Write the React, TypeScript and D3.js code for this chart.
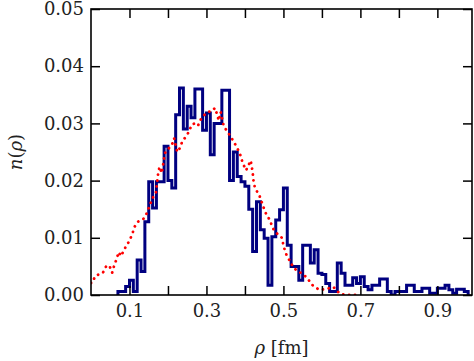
import React, { useRef, useEffect } from 'react';
import * as d3 from 'd3';

// histogram (blue steps): bins of 0.01 starting at 0.07
const binStart = 0.07;
const binWidth = 0.01;
const binValues = [
  0.0006, 0.0006, 0.0015, 0.0026, 0.0006, 0.0061, 0.0041, 0.0128, 0.0198, 0.0152,
  0.0198, 0.0198, 0.0260, 0.0200, 0.0187, 0.0315, 0.0362, 0.0290, 0.0330, 0.0310,
  0.0360, 0.0360, 0.0288, 0.0318, 0.0245, 0.0300, 0.0300, 0.0358, 0.0358, 0.0200,
  0.0250, 0.0207, 0.0198, 0.0190, 0.0150, 0.0076, 0.0163, 0.0114, 0.0099, 0.0017,
  0.0102, 0.0131, 0.0149, 0.0187, 0.0087, 0.0050, 0.0050, 0.0026, 0.0087, 0.0087,
  0.0056, 0.0079, 0.0038, 0.0036, 0.0020, 0.0006, 0.0006, 0.0056, 0.0038, 0.0017,
  0.0017, 0.0030, 0.0020, 0.0032, 0.0015, 0.0009, 0.0017, 0.0017, 0.0028, 0.0028,
  0.0006, 0.0000, 0.0006, 0.0006, 0.0006, 0.0017, 0.0017, 0.0006, 0.0006, 0.0012,
  0.0012, 0.0003, 0.0003, 0.0012, 0.0012, 0.0017, 0.0009, 0.0003, 0.0010, 0.0010,
  0.0006,
];

// red dotted curve
const curveRho = [
  0.000, 0.003, 0.011, 0.020, 0.031, 0.040, 0.048, 0.055, 0.060, 0.066, 0.072, 0.078,
  0.090, 0.100, 0.108, 0.113, 0.122, 0.130, 0.136, 0.143, 0.150, 0.158, 0.165, 0.169,
  0.174, 0.178, 0.184, 0.192, 0.200, 0.210, 0.216, 0.224, 0.231, 0.238, 0.246, 0.254,
  0.262, 0.270, 0.278, 0.286, 0.295, 0.305, 0.315, 0.322, 0.328, 0.332, 0.337, 0.345,
  0.352, 0.360, 0.371, 0.380, 0.389, 0.394, 0.403, 0.410, 0.415, 0.420, 0.422, 0.426,
  0.437, 0.445, 0.450, 0.456, 0.465, 0.472, 0.484, 0.496, 0.501, 0.508, 0.518, 0.527,
  0.537, 0.547, 0.560, 0.568, 0.576, 0.593, 0.608, 0.630, 0.647, 0.665, 0.688, 0.700,
];
const curveN = [
  0.0021, 0.0021, 0.0033, 0.0036, 0.0039, 0.0051, 0.0051, 0.0039, 0.0051, 0.0062, 0.0075, 0.0068,
  0.0084, 0.0095, 0.0108, 0.0119, 0.0128, 0.0131, 0.0133, 0.0140, 0.0152, 0.0166, 0.0176, 0.0180,
  0.0210, 0.0224, 0.0213, 0.0248, 0.0255, 0.0262, 0.0274, 0.0250, 0.0257, 0.0270, 0.0276, 0.0285,
  0.0298, 0.0300, 0.0296, 0.0308, 0.0315, 0.0320, 0.0322, 0.0327, 0.0315, 0.0305, 0.0320, 0.0295,
  0.0288, 0.0280, 0.0268, 0.0257, 0.0243, 0.0231, 0.0218, 0.0228, 0.0235, 0.0215, 0.0201, 0.0187,
  0.0175, 0.0160, 0.0150, 0.0140, 0.0131, 0.0117, 0.0107, 0.0100, 0.0084, 0.0070, 0.0058, 0.0047,
  0.0042, 0.0038, 0.0031, 0.0024, 0.0017, 0.0009, 0.0010, 0.0014, 0.0002, 0.0000, 0.0000, 0.0000,
];

const xTicks = [0.1, 0.2, 0.3, 0.4, 0.5, 0.6, 0.7, 0.8, 0.9];
const xTickLabels = ['0.1', '', '0.3', '', '0.5', '', '0.7', '', '0.9'];
const yTicks = [0, 0.01, 0.02, 0.03, 0.04, 0.05];
const yTickLabels = ['0.00', '0.01', '0.02', '0.03', '0.04', '0.05'];

const FONT = "'DejaVu Serif', 'Liberation Serif', 'Times New Roman', serif";
const FS = '18px';

const App = () => {
  const width = 474;
  const height = 361;
  const margin = { left: 91, right: 2, top: 9, bottom: 66 };
  const ref = useRef<SVGSVGElement | null>(null);

  useEffect(() => {
    if (!ref.current) return;
    const svg = d3.select(ref.current);
    svg.selectAll('*').remove();

    const x = d3.scaleLinear().domain([0, 0.99]).range([margin.left, width - margin.right]);
    const y = d3.scaleLinear().domain([0, 0.05]).range([height - margin.bottom, margin.top]);

    svg.append('clipPath').attr('id', 'plotclip')
      .append('rect')
      .attr('x', x(0)).attr('y', y(0.05))
      .attr('width', x(0.99) - x(0)).attr('height', y(0) - y(0.05));

    // blue histogram
    const steps: [number, number][] = [[binStart, 0]];
    binValues.forEach((v, i) => {
      steps.push([binStart + i * binWidth, v]);
    });
    const binEnd = binStart + binValues.length * binWidth;
    steps.push([binEnd, binValues[binValues.length - 1]]);
    steps.push([binEnd, 0]);

    const stepLine = d3.line<[number, number]>()
      .x(d => x(d[0]))
      .y(d => y(d[1]))
      .curve(d3.curveStepAfter);

    svg.append('path')
      .datum(steps)
      .attr('clip-path', 'url(#plotclip)')
      .attr('d', stepLine)
      .attr('fill', 'none')
      .attr('stroke', '#000080')
      .attr('stroke-width', 3)
      .attr('stroke-linejoin', 'miter');

    // red dotted curve
    const pts: [number, number][] = curveRho.map((r, i) => [r, curveN[i]]);
    svg.append('path')
      .datum(pts)
      .attr('clip-path', 'url(#plotclip)')
      .attr('d', d3.line<[number, number]>().x(d => x(d[0])).y(d => y(d[1])))
      .attr('fill', 'none')
      .attr('stroke', '#ff0000')
      .attr('stroke-width', 2.8)
      .attr('stroke-linecap', 'round')
      .attr('stroke-dasharray', '0.1 5.8');

    // axes, ticks pointing inward
    const styleAxis = (g: any) => {
      g.attr('font-family', null);
      g.select('.domain').remove();
      g.selectAll('line').attr('stroke', '#000').attr('stroke-width', 1.5);
      g.selectAll('text').style('font-family', FONT).style('font-size', FS).attr('fill', '#222');
    };

    svg.append('g')
      .attr('transform', `translate(0, ${y(0)})`)
      .call(d3.axisBottom(x).tickValues(xTicks).tickSize(-9).tickSizeOuter(0).tickPadding(9)
        .tickFormat((d, i) => xTickLabels[i]))
      .call(styleAxis);

    svg.append('g')
      .attr('transform', `translate(0, ${y(0.05)})`)
      .call(d3.axisTop(x).tickValues(xTicks).tickSize(-9).tickSizeOuter(0).tickFormat(() => ''))
      .call(styleAxis);

    svg.append('g')
      .attr('transform', `translate(${x(0)}, 0)`)
      .call(d3.axisLeft(y).tickValues(yTicks).tickSize(-9).tickSizeOuter(0).tickPadding(7)
        .tickFormat((d, i) => yTickLabels[i]))
      .call(styleAxis);

    svg.append('g')
      .attr('transform', `translate(${x(0.99)}, 0)`)
      .call(d3.axisRight(y).tickValues(yTicks).tickSize(-9).tickSizeOuter(0).tickFormat(() => ''))
      .call(styleAxis);

    // frame
    svg.append('rect')
      .attr('x', x(0)).attr('y', y(0.05))
      .attr('width', x(0.99) - x(0)).attr('height', y(0) - y(0.05))
      .attr('fill', 'none')
      .attr('stroke', '#000')
      .attr('stroke-width', 1.6);

    // axis titles
    const xt = svg.append('text')
      .attr('x', (x(0) + x(0.99)) / 2)
      .attr('y', 354)
      .attr('text-anchor', 'middle')
      .style('font-family', FONT)
      .style('font-size', FS)
      .attr('fill', '#222');
    xt.append('tspan').style('font-style', 'italic').text('ρ');
    xt.append('tspan').text(' [fm]');

    const yt = svg.append('text')
      .attr('transform', `translate(22, ${(y(0) + y(0.05)) / 2}) rotate(-90)`)
      .attr('text-anchor', 'middle')
      .style('font-family', FONT)
      .style('font-size', FS)
      .attr('fill', '#222');
    yt.append('tspan').style('font-style', 'italic').text('n');
    yt.append('tspan').text('(');
    yt.append('tspan').style('font-style', 'italic').text('ρ');
    yt.append('tspan').text(')');
  }, []);

  return (
    <svg
      ref={ref}
      width={width}
      height={height}
      style={{ position: 'absolute', left: 0, top: 0, background: '#fff' }}
    />
  );
};

export default App;
